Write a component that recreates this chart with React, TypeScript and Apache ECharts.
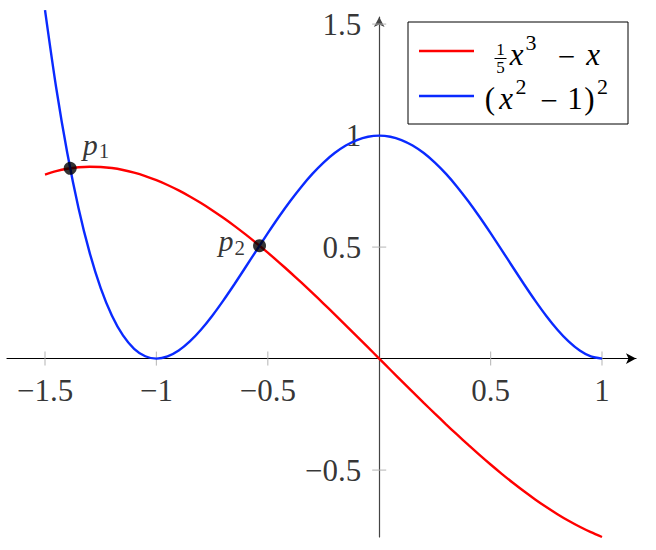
import React, { useEffect, useRef } from "react";
import * as echarts from "echarts";

// sample positions along x
const xs = [
  -1.5, -1.45, -1.4, -1.35, -1.3, -1.25, -1.2, -1.15, -1.1, -1.05,
  -1.0, -0.95, -0.9, -0.85, -0.8, -0.75, -0.7, -0.65, -0.6, -0.55,
  -0.5, -0.45, -0.4, -0.35, -0.3, -0.25, -0.2, -0.15, -0.1, -0.05,
  0.0, 0.05, 0.1, 0.15, 0.2, 0.25, 0.3, 0.35, 0.4, 0.45,
  0.5, 0.55, 0.6, 0.65, 0.7, 0.75, 0.8, 0.85, 0.9, 0.95, 1.0,
];

// red curve: 1/5 x^3 - x
const cubicVals = [
  0.825, 0.8403, 0.8512, 0.8579, 0.8606, 0.8594, 0.8544, 0.8458, 0.8338, 0.8185,
  0.8, 0.7785, 0.7542, 0.7272, 0.6976, 0.6656, 0.6314, 0.5951, 0.5568, 0.5167,
  0.475, 0.4318, 0.3872, 0.3414, 0.2946, 0.2469, 0.1984, 0.1493, 0.0998, 0.05,
  0.0, -0.05, -0.0998, -0.1493, -0.1984, -0.2469, -0.2946, -0.3414, -0.3872, -0.4318,
  -0.475, -0.5167, -0.5568, -0.5951, -0.6314, -0.6656, -0.6976, -0.7272, -0.7542, -0.7785, -0.8,
];

// blue curve: (x^2 - 1)^2
const quarticVals = [
  1.5625, 1.2155, 0.9216, 0.6765, 0.4761, 0.3164, 0.1936, 0.104, 0.0441, 0.0105,
  0.0, 0.0095, 0.0361, 0.077, 0.1296, 0.1914, 0.2601, 0.3335, 0.4096, 0.4865,
  0.5625, 0.636, 0.7056, 0.77, 0.8281, 0.8789, 0.9216, 0.9555, 0.9801, 0.995,
  1.0, 0.995, 0.9801, 0.9555, 0.9216, 0.8789, 0.8281, 0.77, 0.7056, 0.636,
  0.5625, 0.4865, 0.4096, 0.3335, 0.2601, 0.1914, 0.1296, 0.077, 0.0361, 0.0095, 0.0,
];

const xTickValues = [-1.5, -1, -0.5, 0.5, 1];
const yTickValues = [-0.5, 0.5, 1, 1.5];

// intersection points
const pointSubs = ["1", "2"];
const pointX = [-1.387, -0.5372];
const pointY = [0.8533, 0.5062];

const RED = "#ff0000";
const BLUE = "#0a2aff";
const SERIF = "'Liberation Serif', 'DejaVu Serif', serif";

const fmt = (v: number) => (v < 0 ? "\u2212" : "") + String(Math.abs(v));

function txt(
  text: string,
  x: number,
  y: number,
  size: number,
  italic = false,
  lineHeight?: number
) {
  return {
    type: "text",
    x,
    y,
    z: 101,
    style: {
      text,
      fontFamily: SERIF,
      fontSize: size,
      fontStyle: italic ? "italic" : "normal",
      lineHeight: lineHeight || size,
      fill: "#000",
      textAlign: "center",
      align: "center",
      textVerticalAlign: "middle",
      verticalAlign: "middle",
    },
  };
}

const tickLabel = {
  show: true,
  color: "#000",
  fontFamily: SERIF,
  fontSize: 31,
};

export default function App() {
  const ref = useRef<HTMLDivElement>(null);

  useEffect(() => {
    document.body.style.margin = "0";
    if (!ref.current) return;
    const chart = echarts.init(ref.current, undefined, { renderer: "svg" });

    const B1 = 65;
    const B2 = 109;
    const c = (b: number, fs: number) => b - 0.3375 * fs;
    const FS = 31;
    const SUP = 22;

    const option: any = {
      animation: false,
      backgroundColor: "#fff",
      grid: {
        left: 7,
        right: 20,
        top: 17,
        bottom: 13,
        containLabel: false,
        outerBoundsMode: "none",
      },
      xAxis: {
        type: "value",
        min: -1.6706,
        max: 1.1526,
        axisLine: {
          show: true,
          onZero: true,
          symbol: ["none", "arrow"],
          symbolSize: [8, 10],
          lineStyle: { color: "#000", width: 1.2 },
        },
        axisTick: { show: false },
        splitLine: { show: false },
        axisLabel: { show: false },
      },
      yAxis: {
        type: "value",
        min: -0.8,
        max: 1.5318,
        axisLine: {
          show: true,
          onZero: true,
          symbol: ["none", "arrow"],
          symbolSize: [8, 10],
          lineStyle: { color: "#444", width: 1.2 },
        },
        axisTick: { show: false },
        splitLine: { show: false },
        axisLabel: { show: false },
      },
      series: [
        {
          type: "scatter",
          silent: true,
          symbol: "rect",
          symbolSize: [1.2, 14],
          itemStyle: { color: "#b0b0b0" },
          z: 1,
          data: xTickValues.map((v) => [v, 0]),
          label: {
            ...tickLabel,
            position: "bottom",
            distance: 9,
            formatter: (p: any) => fmt(p.value[0]),
          },
        },
        {
          type: "scatter",
          silent: true,
          symbol: "rect",
          symbolSize: [14, 1.2],
          itemStyle: { color: "#b0b0b0" },
          z: 1,
          data: yTickValues.map((v) => [0, v]),
          label: {
            ...tickLabel,
            position: "left",
            distance: 11,
            formatter: (p: any) => fmt(p.value[1]),
          },
        },
        {
          name: "cubic",
          type: "line",
          data: xs.map((x, i) => [x, cubicVals[i]]),
          showSymbol: false,
          smooth: 0.3,
          clip: false,
          lineStyle: { color: RED, width: 2.4 },
          itemStyle: { color: RED },
          z: 3,
        },
        {
          name: "quartic",
          type: "line",
          data: xs.map((x, i) => [x, quarticVals[i]]),
          showSymbol: false,
          smooth: 0.3,
          clip: false,
          lineStyle: { color: BLUE, width: 2.4 },
          itemStyle: { color: BLUE },
          z: 3,
        },
        {
          type: "scatter",
          symbol: "circle",
          symbolSize: 13,
          itemStyle: { color: "#000" },
          z: 5,
          data: pointX.map((x, i) => ({
            value: [x, pointY[i]],
            label: {
              show: true,
              position: i === 0 ? "right" : "left",
              offset: i === 0 ? [1, -24] : [-3, -5],
              formatter: "{p|p}{s|" + pointSubs[i] + "}",
              rich: {
                p: {
                  fontFamily: SERIF,
                  fontStyle: "italic",
                  fontSize: 30,
                  lineHeight: 30,
                  color: "#000",
                },
                s: {
                  fontFamily: SERIF,
                  fontSize: 21,
                  lineHeight: 16,
                  padding: [14, 0, 0, 1],
                  color: "#000",
                },
              },
            },
          })),
        },
      ],
      graphic: [
        {
          type: "rect",
          z: 100,
          shape: { x: 408, y: 22, width: 220, height: 102 },
          style: { fill: "#fff", stroke: "#000", lineWidth: 1 },
        },
        {
          type: "line",
          z: 101,
          shape: { x1: 419, y1: 51, x2: 474, y2: 51 },
          style: { stroke: RED, lineWidth: 2.4 },
        },
        {
          type: "line",
          z: 101,
          shape: { x1: 419, y1: 96, x2: 474, y2: 96 },
          style: { stroke: BLUE, lineWidth: 2.4 },
        },
        // line 1: 1/5 x^3 - x
        txt("1", 500.5, 49.5, 17, false, 13),
        {
          type: "line",
          z: 101,
          shape: { x1: 494.5, y1: 58.5, x2: 506.5, y2: 58.5 },
          style: { stroke: "#000", lineWidth: 1 },
        },
        txt("5", 500.5, 67.5, 17, false, 13),
        txt("x", 516.5, c(B1, FS), FS, true),
        txt("3", 531, c(B1 - 15, SUP), SUP),
        txt("\u2212", 566.5, 56.6, FS),
        txt("x", 593, c(B1, FS), FS, true),
        // line 2: (x^2 - 1)^2
        txt("(", 490, c(B2, FS), FS),
        txt("x", 506, c(B2, FS), FS, true),
        txt("2", 521, c(B2 - 15, SUP), SUP),
        txt("\u2212", 549, B2 - 8.9, FS),
        txt("1", 575, c(B2, FS), FS),
        txt(")", 589.5, c(B2, FS), FS),
        txt("2", 602.5, c(B2 - 15, SUP), SUP),
      ],
    };

    chart.setOption(option);
    return () => {
      chart.dispose();
    };
  }, []);

  return <div ref={ref} style={{ width: 656, height: 550 }} />;
}
